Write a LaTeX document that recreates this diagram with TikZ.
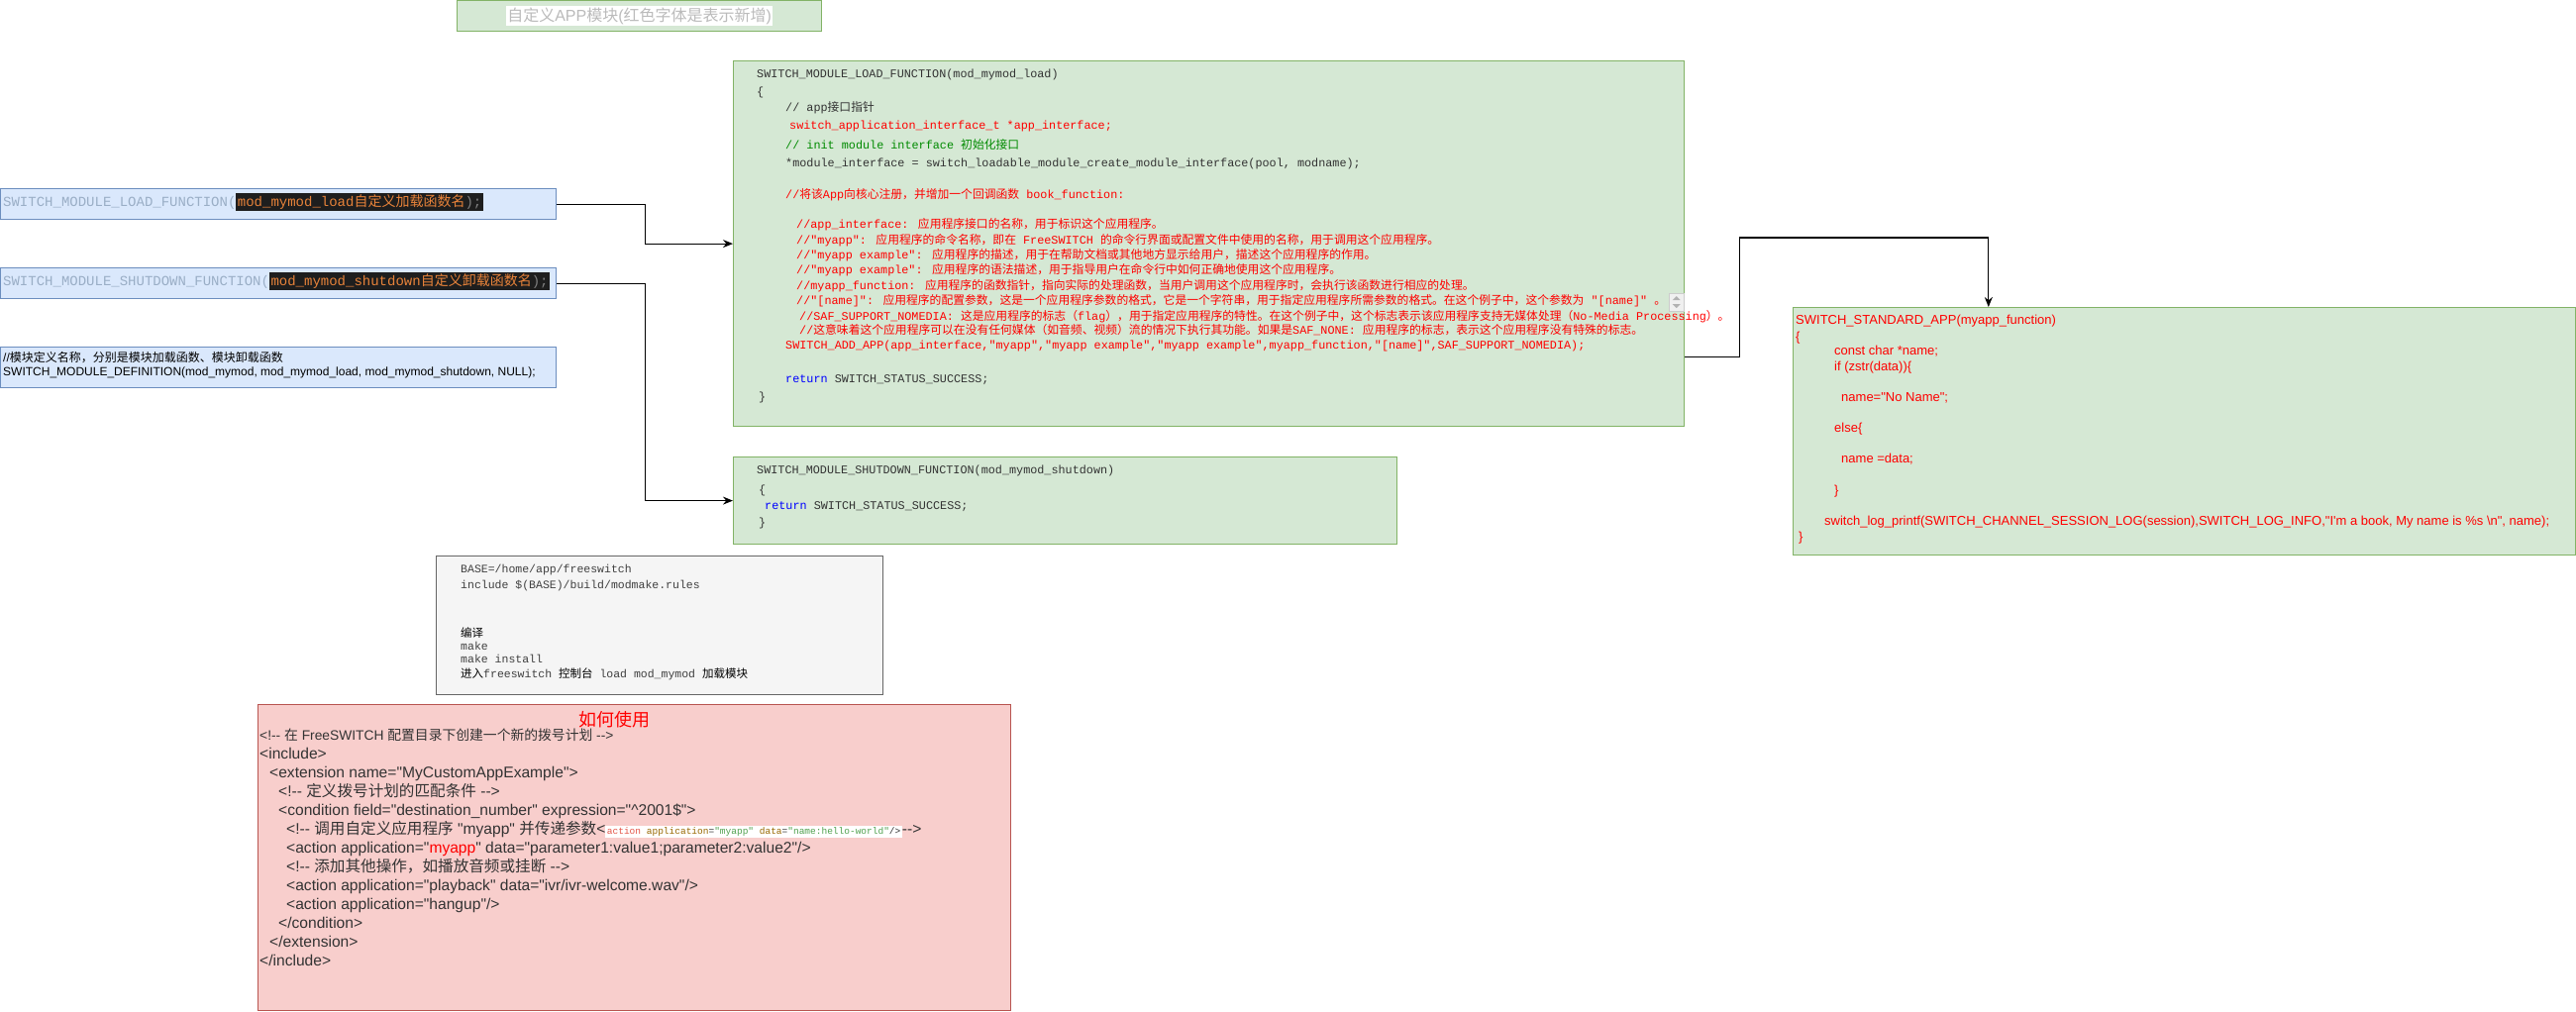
\documentclass[tikz,border=0pt]{standalone}
\usepackage{fontspec}
\usetikzlibrary{arrows.meta,calc}
\newfontfamily\arial{Liberation Sans}
\newfontfamily\mono{Liberation Mono}
\newfontfamily\cjk{Noto Sans CJK SC}
\newcommand{\zh}[1]{{\cjk #1}}
\newcommand{\zk}[1]{{\cjk\color{black}#1}}
\newcommand{\inl}[1]{{\mono\fontsize{9.5}{11}\selectfont #1}}
\setlength{\fboxsep}{1.5pt}
\definecolor{gfill}{HTML}{D5E8D4}
\definecolor{gline}{HTML}{82B366}
\definecolor{bfill}{HTML}{DAE8FC}
\definecolor{bline}{HTML}{6C8EBF}
\definecolor{yfill}{HTML}{F5F5F5}
\definecolor{yline}{HTML}{666666}
\definecolor{pfill}{HTML}{F8CECC}
\definecolor{pline}{HTML}{B85450}
\definecolor{dk}{HTML}{333333}
\definecolor{rd}{HTML}{FF0000}
\definecolor{gr}{HTML}{008A00}
\definecolor{bl}{HTML}{0000FF}
\definecolor{sig}{HTML}{9AAEC6}
\definecolor{org}{HTML}{E8833A}
\definecolor{hl}{HTML}{1E1E1E}
\definecolor{ttl}{HTML}{BBBBBB}
\definecolor{act}{HTML}{E45649}
\definecolor{attr}{HTML}{986801}
\definecolor{str}{HTML}{50A14F}
\tikzset{
  box/.style={draw, line width=1.2pt, anchor=north west, inner sep=0pt},
  gbox/.style={box, fill=gfill, draw=gline},
  bbox/.style={box, fill=bfill, draw=bline},
  ybox/.style={box, fill=yfill, draw=yline},
  pbox/.style={box, fill=pfill, draw=pline},
  txt/.style={anchor=mid west, inner sep=0pt},
  code/.style={txt, font=\mono\fontsize{11.8}{14}\selectfont},
  conn/.style={-{Stealth[length=10pt,width=8pt]}, line width=1.1pt}
}

\begin{document}
\begin{tikzpicture}[x=1pt,y=-1pt]
  \path[use as bounding box, fill=white] (0,0) rectangle (2601,1021);

  \node[gbox, minimum width=368pt, minimum height=31pt, text=ttl,
    font=\arial\fontsize{16}{18}\selectfont] (title) at (461,0)
    {\colorbox{white}{\zh{自定义}APP\zh{模块}(\zh{红色字体是表示新增})}};

  \node[bbox, minimum width=561pt, minimum height=31pt] (ldm) at (0,190) {};
  \node[bbox, minimum width=561pt, minimum height=31pt] (sdm) at (0,270) {};
  \node[bbox, minimum width=561pt, minimum height=41pt] (defm) at (0,350) {};
  \node[gbox, minimum width=960pt, minimum height=369pt] (loadfn) at (740,61) {};
  \node[gbox, minimum width=670pt, minimum height=88pt] (shutfn) at (740,461) {};
  \node[gbox, minimum width=790pt, minimum height=250pt] (appfn) at (1810,310) {};
  \node[ybox, minimum width=451pt, minimum height=140pt] (mk) at (440,561) {};
  \node[pbox, minimum width=760pt, minimum height=309pt] (usage) at (260,711) {};

  \node[txt, font=\mono\fontsize{14}{16}\selectfont, text=sig] (ldt) at ([xshift=3pt]ldm.west)
    {SWITCH\_MODULE\_LOAD\_FUNCTION(\colorbox{hl}{\textcolor{org}{mod\_mymod\_load\zh{自定义加载函数名}}\textcolor{gray}{);}}};
  \node[txt, font=\mono\fontsize{14}{16}\selectfont, text=sig] (sdt) at ([xshift=3pt]sdm.west)
    {SWITCH\_MODULE\_SHUTDOWN\_FUNCTION(\colorbox{hl}{\textcolor{org}{mod\_mymod\_shutdown\zh{自定义卸载函数名}}\textcolor{gray}{);}}};
  \node[txt, font=\arial\fontsize{12}{14}\selectfont] (defa) at (3,363)
    {//\zh{模块定义名称，分别是模块加载函数、模块卸载函数}};
  \node[txt, font=\arial\fontsize{12}{14}\selectfont] (defb) at (3,377)
    {SWITCH\_MODULE\_DEFINITION(mod\_mymod, mod\_mymod\_load, mod\_mymod\_shutdown, NULL);};

  \foreach \x/\y/\c/\t [count=\i] in {
    764/76/dk/{SWITCH\_MODULE\_LOAD\_FUNCTION(mod\_mymod\_load)},
    764/94/dk/{\{},
    793/110/dk/{// app\zh{接口指针}},
    797/128/rd/{switch\_application\_interface\_t *app\_interface;},
    793/148/gr/{// init module interface \zh{初始化接口}},
    793/166/dk/{*module\_interface = switch\_loadable\_module\_create\_module\_interface(pool, modname);},
    793/198/rd/{//\zh{将该}App\zh{向核心注册，并增加一个回调函数} book\_function:},
    804/228/rd/{//app\_interface: \zh{应用程序接口的名称，用于标识这个应用程序。}},
    804/244/rd/{//"myapp": \zh{应用程序的命令名称，即在} FreeSWITCH \zh{的命令行界面或配置文件中使用的名称，用于调用这个应用程序。}},
    804/259/rd/{//"myapp example": \zh{应用程序的描述，用于在帮助文档或其他地方显示给用户，描述这个应用程序的作用。}},
    804/274/rd/{//"myapp example": \zh{应用程序的语法描述，用于指导用户在命令行中如何正确地使用这个应用程序。}},
    804/290/rd/{//myapp\_function: \zh{应用程序的函数指针，指向实际的处理函数，当用户调用这个应用程序时，会执行该函数进行相应的处理。}},
    804/305/rd/{//"[name]": \zh{应用程序的配置参数，这是一个应用程序参数的格式，它是一个字符串，用于指定应用程序所需参数的格式。在这个例子中，这个参数为} "[name]" \zh{。}},
    807/321/rd/{//SAF\_SUPPORT\_NOMEDIA: \zh{这是应用程序的标志（}flag\zh{），用于指定应用程序的特性。在这个例子中，这个标志表示该应用程序支持无媒体处理（}No-Media Processing\zh{）。}},
    807/335/rd/{//\zh{这意味着这个应用程序可以在没有任何媒体（如音频、视频）流的情况下执行其功能。如果是}SAF\_NONE: \zh{应用程序的标志，表示这个应用程序没有特殊的标志。}},
    793/350/rd/{SWITCH\_ADD\_APP(app\_interface,"myapp","myapp example","myapp example",myapp\_function,"[name]",SAF\_SUPPORT\_NOMEDIA);},
    793/384/dk/{\textcolor{bl}{return} SWITCH\_STATUS\_SUCCESS;},
    766/402/dk/{\}}}
    \node[code, text=\c] (ld\i) at (\x,\y) {\t};

  \node[draw=gray!40, fill=gray!12, minimum width=15pt, minimum height=18pt, inner sep=0pt, anchor=north west] (scrl) at (1685,296) {};
  \fill[gray!60] ([yshift=6pt]scrl.center) -- ++(-4,4) -- ++(8,0) -- cycle;
  \fill[gray!60] ([yshift=-6pt]scrl.center) -- ++(-4,-4) -- ++(8,0) -- cycle;

  \foreach \x/\y/\t [count=\i] in {
    764/476/{SWITCH\_MODULE\_SHUTDOWN\_FUNCTION(mod\_mymod\_shutdown)},
    766/496/{\{},
    772/512/{\textcolor{bl}{return} SWITCH\_STATUS\_SUCCESS;},
    766/529/{\}}}
    \node[code, text=dk] (sd\i) at (\x,\y) {\t};

  \foreach \x/\y/\t [count=\i] in {
    1813/325/{SWITCH\_STANDARD\_APP(myapp\_function)},
    1813/342/{\{},
    1852/356/{const char *name;},
    1852/372/{if (zstr(data))\{},
    1859/403/{name="No Name";},
    1852/434/{else\{},
    1859/465/{name =data;},
    1852/497/{\}},
    1842/528/{switch\_log\_printf(SWITCH\_CHANNEL\_SESSION\_LOG(session),SWITCH\_LOG\_INFO,"I'm a book, My name is \%s \textbackslash n", name);},
    1816/544/{\}}}
    \node[txt, font=\arial\fontsize{13}{15}\selectfont, text=rd] (ap\i) at (\x,\y) {\t};

  \foreach \y/\t [count=\i] in {
    576/{BASE=/home/app/freeswitch},
    592/{include \$(BASE)/build/modmake.rules},
    641/{\zk{编译}},
    654/{make},
    667/{make install},
    682/{\zk{进入}freeswitch \zk{控制台} load mod\_mymod \zk{加载模块}}}
    \node[txt, font=\mono\fontsize{11.5}{13}\selectfont, text=black!75] (mk\i) at (465,\y) {\t};

  \node[inner sep=0pt, font=\cjk\fontsize{18}{20}\selectfont, text=rd] (howto) at (620,727) {如何使用};
  \foreach \x/\t [count=\i] in {
    262/{\fontsize{13.8}{16}\selectfont <!-{}- \zh{在} FreeSWITCH \zh{配置目录下创建一个新的拨号计划} -{}->},
    262/{<include>},
    272/{<extension name="MyCustomAppExample">},
    281/{<!-{}- \zh{定义拨号计划的匹配条件} -{}->},
    281/{<condition field="destination\_number" expression="\textasciicircum 2001\$">},
    289/{<!-{}- \zh{调用自定义应用程序} "myapp" \zh{并传递参数}<\colorbox{white}{\inl{\textcolor{act}{action} \textcolor{attr}{application}=\textcolor{str}{"myapp"} \textcolor{attr}{data}=\textcolor{str}{"name:hello-world"}/>}}-{}->},
    289/{<action application="\textcolor{rd}{myapp}" data="parameter1:value1;parameter2:value2"/>},
    289/{<!-{}- \zh{添加其他操作，如播放音频或挂断} -{}->},
    289/{<action application="playback" data="ivr/ivr-welcome.wav"/>},
    289/{<action application="hangup"/>},
    281/{</condition>},
    272/{</extension>},
    262/{</include>}}
    \node[txt, font=\arial\fontsize{15.6}{18}\selectfont, text=dk] (us\i) at (\x,{745+19*(\i-1)}) {\t};

  \draw[conn] (ldm.east) -| ($(ldm.east)!.5!(loadfn.west)$) |- (loadfn.west);
  \draw[conn] (sdm.east) -| ($(sdm.east)!.5!(shutfn.west)$) |- (shutfn.west);
  \coordinate (cbo) at ($(loadfn.north east)!.81!(loadfn.south east)$);
  \coordinate (cin) at ($(appfn.north west)!.25!(appfn.north east)$);
  \draw[conn] (cbo) -- ++(55,0) |- ([yshift=70pt]cin) -- (cin);
\end{tikzpicture}
\end{document}
